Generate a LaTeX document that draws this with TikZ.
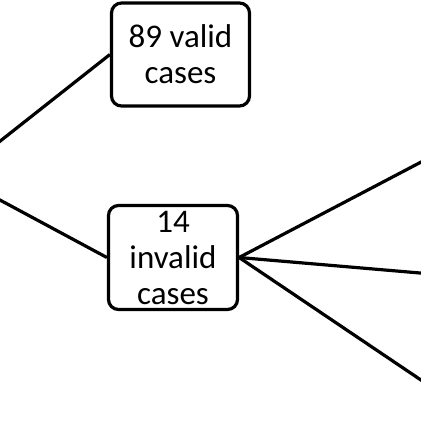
\documentclass[tikz,border=0pt]{standalone}
\usepackage{fontspec}
\setmainfont{Carlito}
\begin{document}
\begin{tikzpicture}[x=1pt,y=-1pt,
  casebox/.style={draw=black, line width=3.2pt, rounded corners=10pt, align=center,
    inner sep=0pt, font=\fontsize{33}{36}\selectfont},
  edge/.style={draw=black, line width=3.2pt}]
\useasboundingbox (0,0) rectangle (421,421);
\clip (0,0) rectangle (421,421);
\node[casebox, minimum width=138pt, minimum height=103pt] (valid) at (180.5,54.5) {89 valid\\cases};
\node[casebox, minimum width=129pt, minimum height=104pt] (invalid) at (173,257.5) {14\\invalid\\cases};
\coordinate (srcA) at (-20,157);
\coordinate (srcB) at (-20,189.3);
\coordinate (outA) at (441,151.6);
\coordinate (outB) at (441,274.8);
\coordinate (outC) at (441,393.5);
\draw[edge] (srcA) -- (valid.west);
\draw[edge] (srcB) -- (invalid.west);
\draw[edge] (invalid.east) -- (outA);
\draw[edge] (invalid.east) -- (outB);
\draw[edge] (invalid.east) -- (outC);
\end{tikzpicture}
\end{document}
